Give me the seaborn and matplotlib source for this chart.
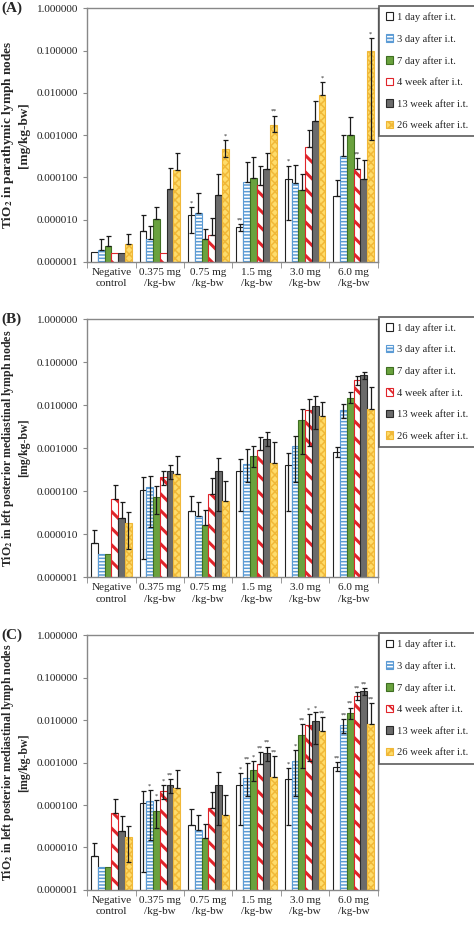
import numpy as np
import pandas as pd
import matplotlib
matplotlib.use('Agg')
import matplotlib.pyplot as plt
from matplotlib.patches import Patch
from matplotlib.ticker import FixedLocator, FormatStrFormatter, NullLocator
import seaborn as sns

doses = ['Negative\ncontrol', '0.375 mg\n/kg-bw', '0.75 mg\n/kg-bw',
         '1.5 mg\n/kg-bw', '3.0 mg\n/kg-bw', '6.0 mg\n/kg-bw']
times = ['1 day after i.t.', '3 day after i.t.', '7 day after i.t.',
         '4 week after i.t.', '13 week after i.t.', '26 week after i.t.']

# panel A: parathymic lymph nodes (rows = time after i.t., cols = dose)
mean_a = np.array([
    [1.66e-6, 5.4e-6, 1.26e-5, 6.7e-6, 8.9e-5, 3.6e-5],
    [1.95e-6, 3.55e-6, 1.46e-5, 7.8e-5, 7.5e-5, 3.2e-4],
    [2.4e-6, 1.05e-5, 3.55e-6, 9.8e-5, 4.9e-5, 1.02e-3],
    [1.65e-6, 1.65e-6, 4.4e-6, 6.5e-5, 5.2e-4, 1.6e-4],
    [1.65e-6, 5.4e-5, 3.9e-5, 1.6e-4, 2.2e-3, 9.3e-5],
    [2.6e-6, 1.47e-4, 4.6e-4, 1.75e-3, 8.7e-3, 1.0e-1],
])
upper_a = np.array([
    [1.66e-6, 1.26e-5, 2.0e-5, 8.0e-6, 1.9e-4, 8.5e-5],
    [3.4e-6, 6.9e-6, 4.2e-5, 2.3e-4, 2.0e-4, 1.0e-3],
    [4.0e-6, 2.0e-5, 6.1e-6, 3.0e-4, 1.2e-4, 2.7e-3],
    [1.65e-6, 1.65e-6, 1.06e-5, 1.9e-4, 1.3e-3, 2.8e-4],
    [1.65e-6, 1.66e-4, 1.18e-4, 3.7e-4, 6.3e-3, 2.5e-4],
    [4.5e-6, 3.7e-4, 7.8e-4, 2.9e-3, 1.8e-2, 2.0e-1],
])
lower_a = np.array([
    [1.66e-6, 5.4e-6, 4.7e-6, 5.5e-6, 1.0e-5, 3.6e-5],
    [1.95e-6, 3.55e-6, 1.46e-5, 7.8e-5, 7.5e-5, 3.2e-4],
    [2.4e-6, 1.05e-5, 3.55e-6, 9.8e-5, 4.9e-5, 1.02e-3],
    [1.65e-6, 1.65e-6, 4.4e-6, 6.5e-5, 5.2e-4, 1.6e-4],
    [1.65e-6, 5.4e-5, 3.9e-5, 1.6e-4, 2.2e-3, 9.3e-5],
    [2.6e-6, 1.47e-4, 3.0e-4, 1.2e-3, 8.7e-3, 7.5e-4],
])
stars_a = [(0, 2, '*'), (5, 2, '*'), (0, 3, '**'), (5, 3, '**'),
           (0, 4, '*'), (5, 4, '*'), (3, 5, '**'), (5, 5, '*')]

# panels B and C: left posterior mediastinal lymph nodes
mean_b = np.array([
    [6.2e-6, 1.09e-4, 3.4e-5, 2.9e-4, 4.1e-4, 8.1e-4],
    [3.4e-6, 1.23e-4, 2.6e-5, 4.3e-4, 1.1e-3, 7.8e-3],
    [3.4e-6, 7.4e-5, 1.66e-5, 6.7e-4, 4.6e-3, 1.48e-2],
    [6.6e-5, 2.1e-4, 8.6e-5, 9.3e-4, 7.8e-3, 3.8e-2],
    [2.4e-5, 2.9e-4, 3.0e-4, 1.66e-3, 9.5e-3, 4.9e-2],
    [1.8e-5, 2.5e-4, 5.8e-5, 4.6e-4, 5.6e-3, 8.2e-3],
])
upper_b = np.array([
    [1.25e-5, 2.1e-4, 7.9e-5, 5.6e-4, 7.6e-4, 1.05e-3],
    [3.4e-6, 2.3e-4, 5.7e-5, 9.6e-4, 1.96e-3, 1.07e-2],
    [3.4e-6, 1.3e-4, 3.6e-5, 1.1e-3, 8.3e-3, 2.0e-2],
    [1.4e-4, 2.9e-4, 2.0e-4, 1.8e-3, 1.4e-2, 4.7e-2],
    [5.5e-5, 4.1e-4, 5.9e-4, 2.4e-3, 1.6e-2, 5.9e-2],
    [3.2e-5, 6.7e-4, 1.7e-4, 1.4e-3, 1.2e-2, 2.6e-2],
])
lower_b = np.array([
    [6.2e-6, 2.6e-6, 3.4e-5, 3.4e-5, 3.4e-5, 6.2e-4],
    [3.4e-6, 1.5e-5, 2.6e-5, 1.6e-4, 1.6e-4, 5.0e-3],
    [3.4e-6, 2.9e-5, 1.66e-5, 3.6e-4, 7.4e-4, 1.1e-2],
    [6.6e-5, 1.4e-4, 8.6e-5, 9.3e-4, 1.1e-3, 3.0e-2],
    [2.4e-5, 1.9e-4, 3.4e-5, 1.1e-3, 2.8e-3, 4.0e-2],
    [4.5e-6, 2.5e-4, 5.8e-5, 4.6e-4, 5.6e-3, 8.2e-3],
])
stars_c = [(1, 1, '*'), (2, 1, '*'), (3, 1, '*'), (4, 1, '**'),
           (0, 3, '*'), (1, 3, '**'), (2, 3, '*'), (3, 3, '**'), (4, 3, '**'), (5, 3, '**'),
           (0, 4, '*'), (1, 4, '*'), (2, 4, '**'), (3, 4, '*'), (4, 4, '*'), (5, 4, '**'),
           (0, 5, '**'), (1, 5, '**'), (2, 5, '**'), (3, 5, '**'), (4, 5, '**'), (5, 5, '**')]

label_a = 'TiO$_\\mathbf{2}$ in parathymic lymph nodes\n[mg/kg-bw]'
label_b = 'TiO$_\\mathbf{2}$ in left posterior mediastinal lymph nodes\n[mg/kg-bw]'

# face, edge(=hatch colour), hatch, hatch width
styles = [
    ('white', '#222222', '', 1.0),
    ('white', '#5b9bd5', '-----', 1.1),
    ('#6aa23e', '#3f6e22', '', 1.0),
    ('white', '#e0242a', '\\\\', 2.2),
    ('#6b6b6b', '#2a2a2a', '', 1.0),
    ('#ffdc6a', '#f0b838', 'xxxx', 1.1),
]

sns.set_style('ticks')
plt.rcParams['font.family'] = ['Liberation Serif', 'DejaVu Serif']
plt.rcParams['mathtext.fontset'] = 'stix'
plt.rcParams['hatch.linewidth'] = 1.3


def style_patch(p, face, edge, hatch, hw):
    p.set_facecolor(face)
    p.set_edgecolor(edge)
    p.set_hatch(hatch)
    if hasattr(p, 'set_hatch_linewidth'):
        p.set_hatch_linewidth(hw)


def draw_panel(ax, mean, upper, lower, stars, ylabel, label_size):
    df = pd.DataFrame({'dose': np.tile(doses, len(times)),
                       'time': np.repeat(times, len(doses)),
                       'value': mean.ravel()})
    sns.barplot(data=df, x='dose', y='value', hue='time', order=doses,
                hue_order=times, errorbar=None, width=0.84, legend=False, ax=ax)
    ax.set_yscale('log')
    ax.set_ylim(1e-6, 1.0)
    ax.set_xlim(-0.5, 5.5)

    bar_groups = list(ax.containers)[:len(times)]
    centers = {}
    for i, cont in enumerate(bar_groups):
        for j, bar in enumerate(cont):
            style_patch(bar, *styles[i])
            bar.set_linewidth(0.8)
            centers[(i, j)] = bar.get_x() + bar.get_width() / 2
    for i in range(len(times)):
        xs = np.array([centers[(i, j)] for j in range(len(doses))])
        has = (upper[i] > mean[i]) | (lower[i] < mean[i])
        ax.errorbar(xs[has], mean[i][has],
                    yerr=[mean[i][has] - lower[i][has], upper[i][has] - mean[i][has]],
                    fmt='none', ecolor='#1a1a1a', elinewidth=0.9, capsize=1.8, capthick=0.9)

    for i, j, s in stars:
        ax.text(centers[(i, j)], upper[i][j] * 1.08, s, ha='center', va='bottom',
                fontsize=4.5, color='#222222')

    ax.yaxis.set_major_locator(FixedLocator([1e-6, 1e-5, 1e-4, 1e-3, 1e-2, 1e-1, 1.0]))
    ax.yaxis.set_minor_locator(NullLocator())
    ax.yaxis.set_major_formatter(FormatStrFormatter('%.6f'))
    ax.tick_params(axis='y', labelsize=8, length=3, color='#888888', direction='out',
                   labelcolor='#222222')
    ax.set_xticks(range(len(doses)))
    ax.set_xticklabels(doses, fontsize=8, linespacing=1.3, color='#222222')
    ax.xaxis.set_minor_locator(FixedLocator(np.arange(-0.5, 6, 1)))
    ax.tick_params(axis='x', which='major', length=0, pad=4.5)
    ax.tick_params(axis='x', which='minor', length=4, color='#888888')
    ax.set_xlabel('')
    ax.set_ylabel(ylabel, fontsize=label_size, fontweight='bold', labelpad=5,
                  linespacing=1.2)
    for sp in ax.spines.values():
        sp.set_visible(True)
        sp.set_color('#888888')
        sp.set_linewidth(1.0)

    handles = []
    for st, t in zip(styles, times):
        p = Patch(label=t, linewidth=0.8)
        style_patch(p, *st)
        handles.append(p)
    leg = ax.legend(handles=handles, loc='upper left', bbox_to_anchor=(1.005, 1.01),
                    fontsize=7.6, frameon=True, fancybox=False, edgecolor='#444444',
                    handlelength=0.7, handleheight=0.7, handletextpad=0.4,
                    labelspacing=1.15, borderpad=0.6, borderaxespad=0.0)
    leg.get_frame().set_linewidth(1.3)


fig = plt.figure(figsize=(4.74, 9.25), dpi=100)
ax_a = fig.add_axes([0.184, 0.717, 0.613, 0.274])
ax_b = fig.add_axes([0.184, 0.376, 0.613, 0.279])
ax_c = fig.add_axes([0.184, 0.038, 0.613, 0.275])

draw_panel(ax_a, mean_a, upper_a, lower_a, stars_a, label_a, 9.5)
draw_panel(ax_b, mean_b, upper_b, lower_b, [], label_b, 8.6)
draw_panel(ax_c, mean_b, upper_b, lower_b, stars_c, label_b, 8.6)

for ax, letter in [(ax_a, '(A)'), (ax_b, '(B)'), (ax_c, '(C)')]:
    top = ax.get_position().y1
    fig.text(0.002, top, letter, fontsize=11, fontweight='bold', ha='left', va='center')

fig.savefig('out.png', dpi=100)
